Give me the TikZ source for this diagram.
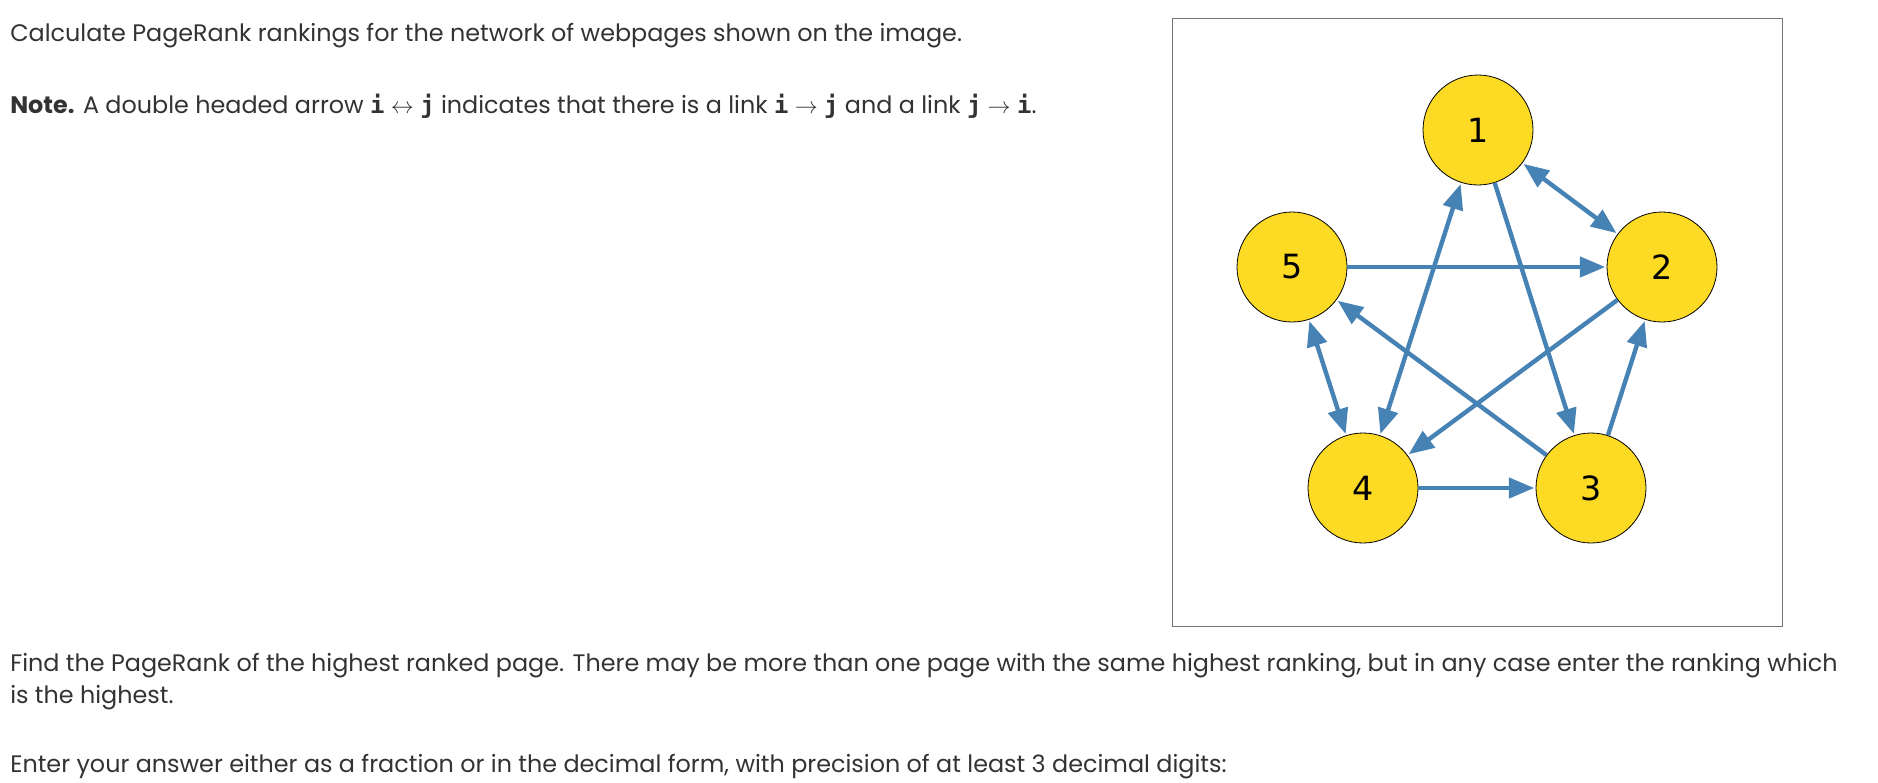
\documentclass[tikz,border=0pt]{standalone}
\usepackage{fontspec}
\setmainfont{Poppins}
\newfontfamily\dejavu{DejaVu Sans}
\newfontfamily\mono{DejaVu Sans Mono}
\usetikzlibrary{arrows.meta}
\definecolor{gold}{HTML}{FDDA24}
\definecolor{steel}{HTML}{4682B4}
\definecolor{txt}{HTML}{333333}
\begin{document}
\begin{tikzpicture}[x=0.75pt,y=-0.75pt,
  pg/.style={circle,draw=black,line width=0.6pt,fill=gold,minimum size=82.5pt,inner sep=0pt,font=\dejavu\fontsize{25}{30}\selectfont},
  ed/.style={draw=steel,line width=3.3pt,-{Triangle[length=19pt,width=15pt]},shorten >=1pt},
  bi/.style={ed,{Triangle[length=19pt,width=15pt]}-{Triangle[length=19pt,width=15pt]},shorten <=1pt},
  tx/.style={anchor=west,inner sep=0pt,text=txt,font=\fontsize{17.9}{22}\selectfont}]
\useasboundingbox (0,0) rectangle (1878,782);
\node[tx] (t1) at (10,36) {Calculate PageRank rankings for the network of webpages shown on the image.};
\node[tx] (t2) at (10,106) {\textbf{Note.} A double headed arrow {\mono\textbf{i}} $\leftrightarrow$ {\mono\textbf{j}} indicates that there is a link {\mono\textbf{i}} $\to$ {\mono\textbf{j}} and a link {\mono\textbf{j}} $\to$ {\mono\textbf{i}}.};
\node[tx] (t3) at (10,666) {Find the PageRank of the highest ranked page. There may be more than one page with the same highest ranking, but in any case enter the ranking which};
\node[tx] (t4) at (10,698) {is the highest.};
\node[tx] (t5) at (10,767) {Enter your answer either as a fraction or in the decimal form, with precision of at least 3 decimal digits:};
\draw[draw=black!55,line width=0.6pt] (1172,18) rectangle (1782,626);
\node[pg] (n1) at (1478,130) {1};
\node[pg] (n2) at (1662,267) {2};
\node[pg] (n5) at (1292,267) {5};
\node[pg] (n4) at (1363,488) {4};
\node[pg] (n3) at (1591,488) {3};
\draw[bi] (n1) -- (n2);
\draw[ed] (n5) -- (n2);
\draw[ed] (n1) -- (n3);
\draw[bi] (n4) -- (n1);
\draw[ed] (n2) -- (n4);
\draw[ed] (n3) -- (n5);
\draw[ed] (n3) -- (n2);
\draw[bi] (n5) -- (n4);
\draw[ed] (n4) -- (n3);
\end{tikzpicture}
\end{document}
